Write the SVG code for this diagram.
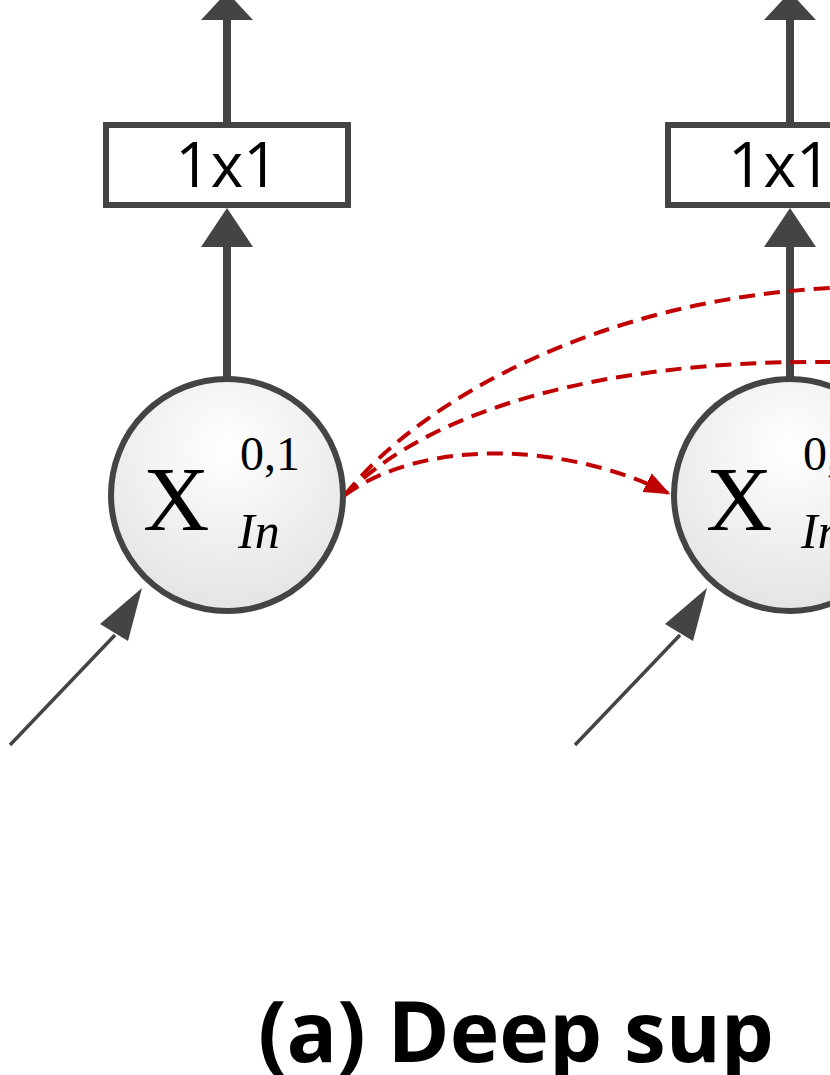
<svg xmlns="http://www.w3.org/2000/svg" width="830" height="1075" viewBox="0 0 830 1075">
<defs>
<radialGradient id="g" cx="0.5" cy="0.3" r="0.7"><stop offset="0" stop-color="#ffffff"/><stop offset="1" stop-color="#e4e4e4"/></radialGradient>
<marker id="rh" viewBox="0 0 10 10" refX="9" refY="5" markerWidth="26" markerHeight="26" orient="auto" markerUnits="userSpaceOnUse"><path d="M0,1L10,5L0,9z" fill="#c00000"/></marker>
<style>
.box{fill:#fff;stroke:#444;stroke-width:6}
.node{fill:url(#g);stroke:#444;stroke-width:6}
.sh{stroke:#444;stroke-width:8}
.th{stroke:#444;stroke-width:3.5}
.red{fill:none;stroke:#c00000;stroke-width:4;stroke-dasharray:16 9}
.lbl{font-family:"Open Sans","Liberation Sans",Arial,sans-serif;font-size:62px;fill:#000}
.x{font-family:"Liberation Serif","Times New Roman",serif;fill:#000}
</style>
</defs>
<g id="connectors">
<line class="sh" x1="227" y1="18" x2="227" y2="125"/><path d="M201,20L227,-8L253,20z" fill="#444"/>
<line class="sh" x1="790" y1="18" x2="790" y2="125"/><path d="M764,20L790,-8L816,20z" fill="#444"/>
<line class="sh" x1="227" y1="245" x2="227" y2="378"/><path d="M201,247L227,208L253,247z" fill="#444"/>
<line class="sh" x1="790" y1="245" x2="790" y2="378"/><path d="M764,247L790,208L816,247z" fill="#444"/>
<line class="th" x1="10" y1="745" x2="115" y2="635"/><path d="M100,624L142,588L128,641z" fill="#444"/>
<line class="th" x1="575" y1="745" x2="680" y2="635"/><path d="M665,624L707,588L693,641z" fill="#444"/>
<path class="red" d="M345,495C420,440 560,440 668,493" marker-end="url(#rh)"/>
<path class="red" d="M345,495C430,410 600,360 830,362"/>
<path class="red" d="M345,495C420,400 600,300 830,288"/>
</g>
<g id="box1"><rect class="box" x="106" y="125" width="242" height="80"/><text class="lbl" x="227" y="187" text-anchor="middle">1x1</text></g>
<g id="box2"><rect class="box" x="668" y="125" width="200" height="80"/><text class="lbl" x="728" y="187">1x1</text></g>
<g id="node1"><circle class="node" cx="227" cy="495" r="116"/>
<text class="x" x="143" y="530" font-size="92">X</text><text class="x" x="240" y="470" font-size="48">0,1</text><text class="x" x="238" y="548" font-size="50" font-style="italic">In</text></g>
<g id="node2"><circle class="node" cx="790" cy="495" r="116"/>
<text class="x" x="706" y="530" font-size="92">X</text><text class="x" x="803" y="470" font-size="48">0,1</text><text class="x" x="801" y="548" font-size="50" font-style="italic">In</text></g>
<text x="258" y="1062" font-family="'Open Sans','Liberation Sans',Arial,sans-serif" font-weight="bold" font-size="84" fill="#000">(a) Deep sup</text>
</svg>
